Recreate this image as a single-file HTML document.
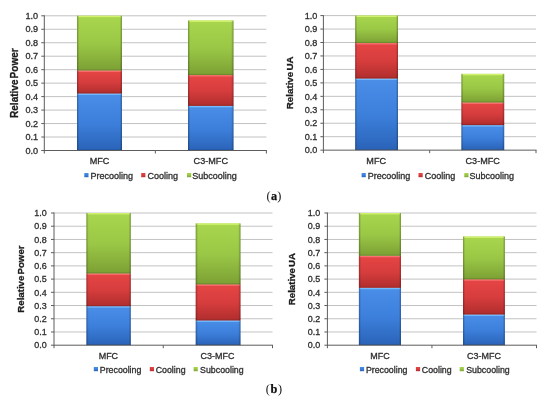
<!DOCTYPE html>
<html><head><meta charset="utf-8"><title>Relative Power and Relative UA</title>
<style>
html,body{margin:0;padding:0;background:#fff;}
body{width:550px;height:403px;overflow:hidden;}
svg{display:block;}
text{font-family:"Liberation Sans",Arial,sans-serif;}
.t{fill:#2e2e2e;stroke:#2e2e2e;stroke-width:0.3px;}
.yt{font-weight:bold;fill:#1c1c1c;stroke:#1c1c1c;stroke-width:0.3px;word-spacing:-1.6px;}
.cap{font-family:"Liberation Serif",serif;font-size:12.3px;fill:#111;}
</style></head><body>
<svg width="550" height="403" viewBox="0 0 550 403">
<defs>
<linearGradient id="gb" x1="0" y1="0" x2="0" y2="1"><stop offset="0" stop-color="#4a8ee8"/><stop offset="0.5" stop-color="#3d80dc"/><stop offset="1" stop-color="#2a63b8"/></linearGradient>
<linearGradient id="gr" x1="0" y1="0" x2="0" y2="1"><stop offset="0" stop-color="#e64545"/><stop offset="0.5" stop-color="#d73d3d"/><stop offset="1" stop-color="#b02d2d"/></linearGradient>
<linearGradient id="gg" x1="0" y1="0" x2="0" y2="1"><stop offset="0" stop-color="#a8d64e"/><stop offset="0.5" stop-color="#9aC846"/><stop offset="1" stop-color="#7ca034"/></linearGradient>
<linearGradient id="edge" x1="0" y1="0" x2="1" y2="0"><stop offset="0" stop-color="#000" stop-opacity="0.3"/><stop offset="0.05" stop-color="#000" stop-opacity="0"/><stop offset="0.95" stop-color="#000" stop-opacity="0"/><stop offset="1" stop-color="#000" stop-opacity="0.3"/></linearGradient>
</defs>
<rect width="550" height="403" fill="#fff"/>

<g font-size="9.1">
<line x1="44.30" y1="137.03" x2="266.40" y2="137.03" stroke="#c2c2c2" stroke-width="1"/>
<line x1="44.30" y1="123.56" x2="266.40" y2="123.56" stroke="#c2c2c2" stroke-width="1"/>
<line x1="44.30" y1="110.09" x2="266.40" y2="110.09" stroke="#c2c2c2" stroke-width="1"/>
<line x1="44.30" y1="96.62" x2="266.40" y2="96.62" stroke="#c2c2c2" stroke-width="1"/>
<line x1="44.30" y1="83.15" x2="266.40" y2="83.15" stroke="#c2c2c2" stroke-width="1"/>
<line x1="44.30" y1="69.68" x2="266.40" y2="69.68" stroke="#c2c2c2" stroke-width="1"/>
<line x1="44.30" y1="56.21" x2="266.40" y2="56.21" stroke="#c2c2c2" stroke-width="1"/>
<line x1="44.30" y1="42.74" x2="266.40" y2="42.74" stroke="#c2c2c2" stroke-width="1"/>
<line x1="44.30" y1="29.27" x2="266.40" y2="29.27" stroke="#c2c2c2" stroke-width="1"/>
<line x1="44.30" y1="15.80" x2="266.40" y2="15.80" stroke="#c2c2c2" stroke-width="1"/>
<rect x="77.00" y="93.52" width="45.00" height="56.98" fill="url(#gb)"/>
<rect x="77.80" y="93.52" width="43.40" height="1.4" fill="#72bcff"/>
<rect x="77.00" y="149.30" width="45.00" height="1.2" fill="#000" fill-opacity="0.12"/>
<rect x="77.00" y="70.49" width="45.00" height="23.03" fill="url(#gr)"/>
<rect x="77.80" y="70.49" width="43.40" height="1.4" fill="#fb7070"/>
<rect x="77.00" y="92.32" width="45.00" height="1.2" fill="#000" fill-opacity="0.12"/>
<rect x="77.00" y="15.80" width="45.00" height="54.69" fill="url(#gg)"/>
<rect x="77.80" y="15.80" width="43.40" height="1.4" fill="#d0f26e"/>
<rect x="77.00" y="69.29" width="45.00" height="1.2" fill="#000" fill-opacity="0.12"/>
<rect x="77.00" y="15.80" width="45.00" height="134.70" fill="url(#edge)"/>
<rect x="188.00" y="105.91" width="45.50" height="44.59" fill="url(#gb)"/>
<rect x="188.80" y="105.91" width="43.90" height="1.4" fill="#72bcff"/>
<rect x="188.00" y="149.30" width="45.50" height="1.2" fill="#000" fill-opacity="0.12"/>
<rect x="188.00" y="75.07" width="45.50" height="30.85" fill="url(#gr)"/>
<rect x="188.80" y="75.07" width="43.90" height="1.4" fill="#fb7070"/>
<rect x="188.00" y="104.71" width="45.50" height="1.2" fill="#000" fill-opacity="0.12"/>
<rect x="188.00" y="20.51" width="45.50" height="54.55" fill="url(#gg)"/>
<rect x="188.80" y="20.51" width="43.90" height="1.4" fill="#d0f26e"/>
<rect x="188.00" y="73.87" width="45.50" height="1.2" fill="#000" fill-opacity="0.12"/>
<rect x="188.00" y="20.51" width="45.50" height="129.99" fill="url(#edge)"/>
<line x1="44.30" y1="15.30" x2="44.30" y2="153.50" stroke="#5c5c5c" stroke-width="1"/>
<line x1="41.30" y1="150.50" x2="266.90" y2="150.50" stroke="#5c5c5c" stroke-width="1"/>
<line x1="41.30" y1="137.03" x2="44.30" y2="137.03" stroke="#5c5c5c" stroke-width="1"/>
<line x1="41.30" y1="123.56" x2="44.30" y2="123.56" stroke="#5c5c5c" stroke-width="1"/>
<line x1="41.30" y1="110.09" x2="44.30" y2="110.09" stroke="#5c5c5c" stroke-width="1"/>
<line x1="41.30" y1="96.62" x2="44.30" y2="96.62" stroke="#5c5c5c" stroke-width="1"/>
<line x1="41.30" y1="83.15" x2="44.30" y2="83.15" stroke="#5c5c5c" stroke-width="1"/>
<line x1="41.30" y1="69.68" x2="44.30" y2="69.68" stroke="#5c5c5c" stroke-width="1"/>
<line x1="41.30" y1="56.21" x2="44.30" y2="56.21" stroke="#5c5c5c" stroke-width="1"/>
<line x1="41.30" y1="42.74" x2="44.30" y2="42.74" stroke="#5c5c5c" stroke-width="1"/>
<line x1="41.30" y1="29.27" x2="44.30" y2="29.27" stroke="#5c5c5c" stroke-width="1"/>
<line x1="41.30" y1="15.80" x2="44.30" y2="15.80" stroke="#5c5c5c" stroke-width="1"/>
<line x1="155.35" y1="150.50" x2="155.35" y2="153.50" stroke="#5c5c5c" stroke-width="1"/>
<line x1="266.40" y1="150.50" x2="266.40" y2="153.50" stroke="#5c5c5c" stroke-width="1"/>
<text class="t" x="38.20" y="153.70" text-anchor="end">0.0</text>
<text class="t" x="38.20" y="140.23" text-anchor="end">0.1</text>
<text class="t" x="38.20" y="126.76" text-anchor="end">0.2</text>
<text class="t" x="38.20" y="113.29" text-anchor="end">0.3</text>
<text class="t" x="38.20" y="99.82" text-anchor="end">0.4</text>
<text class="t" x="38.20" y="86.35" text-anchor="end">0.5</text>
<text class="t" x="38.20" y="72.88" text-anchor="end">0.6</text>
<text class="t" x="38.20" y="59.41" text-anchor="end">0.7</text>
<text class="t" x="38.20" y="45.94" text-anchor="end">0.8</text>
<text class="t" x="38.20" y="32.47" text-anchor="end">0.9</text>
<text class="t" x="38.20" y="19.00" text-anchor="end">1.0</text>
<text class="t" x="99.50" y="163.80" text-anchor="middle">MFC</text>
<text class="t" x="210.80" y="163.80" text-anchor="middle">C3-MFC</text>
<text class="yt" font-size="10.00" x="17.70" y="83.15" text-anchor="middle" transform="rotate(-90 17.70 83.15)">Relative Power</text>
<rect x="84.30" y="173.00" width="4.2" height="4.2" fill="url(#gb)"/>
<text class="t" font-size="9.00" x="90.50" y="178.80">Precooling</text>
<rect x="141.20" y="173.00" width="4.2" height="4.2" fill="url(#gr)"/>
<text class="t" font-size="9.00" x="147.40" y="178.80">Cooling</text>
<rect x="187.00" y="173.00" width="4.2" height="4.2" fill="url(#gg)"/>
<text class="t" font-size="9.00" x="192.30" y="178.80">Subcooling</text>
</g>
<g font-size="9.1">
<line x1="323.40" y1="136.69" x2="536.00" y2="136.69" stroke="#c2c2c2" stroke-width="1"/>
<line x1="323.40" y1="123.24" x2="536.00" y2="123.24" stroke="#c2c2c2" stroke-width="1"/>
<line x1="323.40" y1="109.78" x2="536.00" y2="109.78" stroke="#c2c2c2" stroke-width="1"/>
<line x1="323.40" y1="96.33" x2="536.00" y2="96.33" stroke="#c2c2c2" stroke-width="1"/>
<line x1="323.40" y1="82.88" x2="536.00" y2="82.88" stroke="#c2c2c2" stroke-width="1"/>
<line x1="323.40" y1="69.42" x2="536.00" y2="69.42" stroke="#c2c2c2" stroke-width="1"/>
<line x1="323.40" y1="55.96" x2="536.00" y2="55.96" stroke="#c2c2c2" stroke-width="1"/>
<line x1="323.40" y1="42.51" x2="536.00" y2="42.51" stroke="#c2c2c2" stroke-width="1"/>
<line x1="323.40" y1="29.06" x2="536.00" y2="29.06" stroke="#c2c2c2" stroke-width="1"/>
<line x1="323.40" y1="15.60" x2="536.00" y2="15.60" stroke="#c2c2c2" stroke-width="1"/>
<rect x="355.20" y="78.57" width="42.80" height="71.58" fill="url(#gb)"/>
<rect x="356.00" y="78.57" width="41.20" height="1.4" fill="#72bcff"/>
<rect x="355.20" y="148.95" width="42.80" height="1.2" fill="#000" fill-opacity="0.12"/>
<rect x="355.20" y="43.05" width="42.80" height="35.52" fill="url(#gr)"/>
<rect x="356.00" y="43.05" width="41.20" height="1.4" fill="#fb7070"/>
<rect x="355.20" y="77.37" width="42.80" height="1.2" fill="#000" fill-opacity="0.12"/>
<rect x="355.20" y="15.60" width="42.80" height="27.45" fill="url(#gg)"/>
<rect x="356.00" y="15.60" width="41.20" height="1.4" fill="#d0f26e"/>
<rect x="355.20" y="41.85" width="42.80" height="1.2" fill="#000" fill-opacity="0.12"/>
<rect x="355.20" y="15.60" width="42.80" height="134.55" fill="url(#edge)"/>
<rect x="461.40" y="125.12" width="42.80" height="25.03" fill="url(#gb)"/>
<rect x="462.20" y="125.12" width="41.20" height="1.4" fill="#72bcff"/>
<rect x="461.40" y="148.95" width="42.80" height="1.2" fill="#000" fill-opacity="0.12"/>
<rect x="461.40" y="102.52" width="42.80" height="22.60" fill="url(#gr)"/>
<rect x="462.20" y="102.52" width="41.20" height="1.4" fill="#fb7070"/>
<rect x="461.40" y="123.92" width="42.80" height="1.2" fill="#000" fill-opacity="0.12"/>
<rect x="461.40" y="73.86" width="42.80" height="28.66" fill="url(#gg)"/>
<rect x="462.20" y="73.86" width="41.20" height="1.4" fill="#d0f26e"/>
<rect x="461.40" y="101.32" width="42.80" height="1.2" fill="#000" fill-opacity="0.12"/>
<rect x="461.40" y="73.86" width="42.80" height="76.29" fill="url(#edge)"/>
<line x1="323.40" y1="15.10" x2="323.40" y2="153.15" stroke="#5c5c5c" stroke-width="1"/>
<line x1="320.40" y1="150.15" x2="536.50" y2="150.15" stroke="#5c5c5c" stroke-width="1"/>
<line x1="320.40" y1="136.69" x2="323.40" y2="136.69" stroke="#5c5c5c" stroke-width="1"/>
<line x1="320.40" y1="123.24" x2="323.40" y2="123.24" stroke="#5c5c5c" stroke-width="1"/>
<line x1="320.40" y1="109.78" x2="323.40" y2="109.78" stroke="#5c5c5c" stroke-width="1"/>
<line x1="320.40" y1="96.33" x2="323.40" y2="96.33" stroke="#5c5c5c" stroke-width="1"/>
<line x1="320.40" y1="82.88" x2="323.40" y2="82.88" stroke="#5c5c5c" stroke-width="1"/>
<line x1="320.40" y1="69.42" x2="323.40" y2="69.42" stroke="#5c5c5c" stroke-width="1"/>
<line x1="320.40" y1="55.96" x2="323.40" y2="55.96" stroke="#5c5c5c" stroke-width="1"/>
<line x1="320.40" y1="42.51" x2="323.40" y2="42.51" stroke="#5c5c5c" stroke-width="1"/>
<line x1="320.40" y1="29.06" x2="323.40" y2="29.06" stroke="#5c5c5c" stroke-width="1"/>
<line x1="320.40" y1="15.60" x2="323.40" y2="15.60" stroke="#5c5c5c" stroke-width="1"/>
<line x1="429.70" y1="150.15" x2="429.70" y2="153.15" stroke="#5c5c5c" stroke-width="1"/>
<line x1="536.00" y1="150.15" x2="536.00" y2="153.15" stroke="#5c5c5c" stroke-width="1"/>
<text class="t" x="317.40" y="153.35" text-anchor="end">0.0</text>
<text class="t" x="317.40" y="139.89" text-anchor="end">0.1</text>
<text class="t" x="317.40" y="126.44" text-anchor="end">0.2</text>
<text class="t" x="317.40" y="112.98" text-anchor="end">0.3</text>
<text class="t" x="317.40" y="99.53" text-anchor="end">0.4</text>
<text class="t" x="317.40" y="86.08" text-anchor="end">0.5</text>
<text class="t" x="317.40" y="72.62" text-anchor="end">0.6</text>
<text class="t" x="317.40" y="59.16" text-anchor="end">0.7</text>
<text class="t" x="317.40" y="45.71" text-anchor="end">0.8</text>
<text class="t" x="317.40" y="32.26" text-anchor="end">0.9</text>
<text class="t" x="317.40" y="18.80" text-anchor="end">1.0</text>
<text class="t" x="376.20" y="163.80" text-anchor="middle">MFC</text>
<text class="t" x="482.70" y="163.80" text-anchor="middle">C3-MFC</text>
<text class="yt" font-size="9.80" x="292.70" y="82.88" text-anchor="middle" transform="rotate(-90 292.70 82.88)">Relative UA</text>
<rect x="361.60" y="173.00" width="4.2" height="4.2" fill="url(#gb)"/>
<text class="t" font-size="9.00" x="367.80" y="178.80">Precooling</text>
<rect x="418.50" y="173.00" width="4.2" height="4.2" fill="url(#gr)"/>
<text class="t" font-size="9.00" x="424.70" y="178.80">Cooling</text>
<rect x="464.30" y="173.00" width="4.2" height="4.2" fill="url(#gg)"/>
<text class="t" font-size="9.00" x="469.60" y="178.80">Subcooling</text>
</g>
<g font-size="8.95">
<line x1="54.00" y1="331.98" x2="272.50" y2="331.98" stroke="#c2c2c2" stroke-width="1"/>
<line x1="54.00" y1="318.76" x2="272.50" y2="318.76" stroke="#c2c2c2" stroke-width="1"/>
<line x1="54.00" y1="305.54" x2="272.50" y2="305.54" stroke="#c2c2c2" stroke-width="1"/>
<line x1="54.00" y1="292.32" x2="272.50" y2="292.32" stroke="#c2c2c2" stroke-width="1"/>
<line x1="54.00" y1="279.10" x2="272.50" y2="279.10" stroke="#c2c2c2" stroke-width="1"/>
<line x1="54.00" y1="265.88" x2="272.50" y2="265.88" stroke="#c2c2c2" stroke-width="1"/>
<line x1="54.00" y1="252.66" x2="272.50" y2="252.66" stroke="#c2c2c2" stroke-width="1"/>
<line x1="54.00" y1="239.44" x2="272.50" y2="239.44" stroke="#c2c2c2" stroke-width="1"/>
<line x1="54.00" y1="226.22" x2="272.50" y2="226.22" stroke="#c2c2c2" stroke-width="1"/>
<line x1="54.00" y1="213.00" x2="272.50" y2="213.00" stroke="#c2c2c2" stroke-width="1"/>
<rect x="86.40" y="306.20" width="44.40" height="39.00" fill="url(#gb)"/>
<rect x="87.20" y="306.20" width="42.80" height="1.4" fill="#72bcff"/>
<rect x="86.40" y="344.00" width="44.40" height="1.2" fill="#000" fill-opacity="0.12"/>
<rect x="86.40" y="273.48" width="44.40" height="32.72" fill="url(#gr)"/>
<rect x="87.20" y="273.48" width="42.80" height="1.4" fill="#fb7070"/>
<rect x="86.40" y="305.00" width="44.40" height="1.2" fill="#000" fill-opacity="0.12"/>
<rect x="86.40" y="213.00" width="44.40" height="60.48" fill="url(#gg)"/>
<rect x="87.20" y="213.00" width="42.80" height="1.4" fill="#d0f26e"/>
<rect x="86.40" y="272.28" width="44.40" height="1.2" fill="#000" fill-opacity="0.12"/>
<rect x="86.40" y="213.00" width="44.40" height="132.20" fill="url(#edge)"/>
<rect x="195.70" y="320.48" width="44.80" height="24.72" fill="url(#gb)"/>
<rect x="196.50" y="320.48" width="43.20" height="1.4" fill="#72bcff"/>
<rect x="195.70" y="344.00" width="44.80" height="1.2" fill="#000" fill-opacity="0.12"/>
<rect x="195.70" y="284.39" width="44.80" height="36.09" fill="url(#gr)"/>
<rect x="196.50" y="284.39" width="43.20" height="1.4" fill="#fb7070"/>
<rect x="195.70" y="319.28" width="44.80" height="1.2" fill="#000" fill-opacity="0.12"/>
<rect x="195.70" y="223.44" width="44.80" height="60.94" fill="url(#gg)"/>
<rect x="196.50" y="223.44" width="43.20" height="1.4" fill="#d0f26e"/>
<rect x="195.70" y="283.19" width="44.80" height="1.2" fill="#000" fill-opacity="0.12"/>
<rect x="195.70" y="223.44" width="44.80" height="121.76" fill="url(#edge)"/>
<line x1="54.00" y1="212.50" x2="54.00" y2="348.20" stroke="#5c5c5c" stroke-width="1"/>
<line x1="51.00" y1="345.20" x2="273.00" y2="345.20" stroke="#5c5c5c" stroke-width="1"/>
<line x1="51.00" y1="331.98" x2="54.00" y2="331.98" stroke="#5c5c5c" stroke-width="1"/>
<line x1="51.00" y1="318.76" x2="54.00" y2="318.76" stroke="#5c5c5c" stroke-width="1"/>
<line x1="51.00" y1="305.54" x2="54.00" y2="305.54" stroke="#5c5c5c" stroke-width="1"/>
<line x1="51.00" y1="292.32" x2="54.00" y2="292.32" stroke="#5c5c5c" stroke-width="1"/>
<line x1="51.00" y1="279.10" x2="54.00" y2="279.10" stroke="#5c5c5c" stroke-width="1"/>
<line x1="51.00" y1="265.88" x2="54.00" y2="265.88" stroke="#5c5c5c" stroke-width="1"/>
<line x1="51.00" y1="252.66" x2="54.00" y2="252.66" stroke="#5c5c5c" stroke-width="1"/>
<line x1="51.00" y1="239.44" x2="54.00" y2="239.44" stroke="#5c5c5c" stroke-width="1"/>
<line x1="51.00" y1="226.22" x2="54.00" y2="226.22" stroke="#5c5c5c" stroke-width="1"/>
<line x1="51.00" y1="213.00" x2="54.00" y2="213.00" stroke="#5c5c5c" stroke-width="1"/>
<line x1="163.25" y1="345.20" x2="163.25" y2="348.20" stroke="#5c5c5c" stroke-width="1"/>
<line x1="272.50" y1="345.20" x2="272.50" y2="348.20" stroke="#5c5c5c" stroke-width="1"/>
<text class="t" x="46.70" y="348.40" text-anchor="end">0.0</text>
<text class="t" x="46.70" y="335.18" text-anchor="end">0.1</text>
<text class="t" x="46.70" y="321.96" text-anchor="end">0.2</text>
<text class="t" x="46.70" y="308.74" text-anchor="end">0.3</text>
<text class="t" x="46.70" y="295.52" text-anchor="end">0.4</text>
<text class="t" x="46.70" y="282.30" text-anchor="end">0.5</text>
<text class="t" x="46.70" y="269.08" text-anchor="end">0.6</text>
<text class="t" x="46.70" y="255.86" text-anchor="end">0.7</text>
<text class="t" x="46.70" y="242.64" text-anchor="end">0.8</text>
<text class="t" x="46.70" y="229.42" text-anchor="end">0.9</text>
<text class="t" x="46.70" y="216.20" text-anchor="end">1.0</text>
<text class="t" x="108.40" y="358.80" text-anchor="middle">MFC</text>
<text class="t" x="217.50" y="358.80" text-anchor="middle">C3-MFC</text>
<text class="yt" font-size="9.70" x="24.50" y="279.10" text-anchor="middle" transform="rotate(-90 24.50 279.10)">Relative Power</text>
<rect x="93.80" y="367.00" width="4.2" height="4.2" fill="url(#gb)"/>
<text class="t" font-size="8.80" x="99.80" y="372.80">Precooling</text>
<rect x="149.80" y="367.00" width="4.2" height="4.2" fill="url(#gr)"/>
<text class="t" font-size="8.80" x="155.70" y="372.80">Cooling</text>
<rect x="193.60" y="367.00" width="4.2" height="4.2" fill="url(#gg)"/>
<text class="t" font-size="8.80" x="200.10" y="372.80">Subcooling</text>
</g>
<g font-size="8.95">
<line x1="327.40" y1="331.98" x2="536.50" y2="331.98" stroke="#c2c2c2" stroke-width="1"/>
<line x1="327.40" y1="318.76" x2="536.50" y2="318.76" stroke="#c2c2c2" stroke-width="1"/>
<line x1="327.40" y1="305.54" x2="536.50" y2="305.54" stroke="#c2c2c2" stroke-width="1"/>
<line x1="327.40" y1="292.32" x2="536.50" y2="292.32" stroke="#c2c2c2" stroke-width="1"/>
<line x1="327.40" y1="279.10" x2="536.50" y2="279.10" stroke="#c2c2c2" stroke-width="1"/>
<line x1="327.40" y1="265.88" x2="536.50" y2="265.88" stroke="#c2c2c2" stroke-width="1"/>
<line x1="327.40" y1="252.66" x2="536.50" y2="252.66" stroke="#c2c2c2" stroke-width="1"/>
<line x1="327.40" y1="239.44" x2="536.50" y2="239.44" stroke="#c2c2c2" stroke-width="1"/>
<line x1="327.40" y1="226.22" x2="536.50" y2="226.22" stroke="#c2c2c2" stroke-width="1"/>
<line x1="327.40" y1="213.00" x2="536.50" y2="213.00" stroke="#c2c2c2" stroke-width="1"/>
<rect x="358.90" y="287.83" width="42.10" height="57.37" fill="url(#gb)"/>
<rect x="359.70" y="287.83" width="40.50" height="1.4" fill="#72bcff"/>
<rect x="358.90" y="344.00" width="42.10" height="1.2" fill="#000" fill-opacity="0.12"/>
<rect x="358.90" y="255.83" width="42.10" height="31.99" fill="url(#gr)"/>
<rect x="359.70" y="255.83" width="40.50" height="1.4" fill="#fb7070"/>
<rect x="358.90" y="286.63" width="42.10" height="1.2" fill="#000" fill-opacity="0.12"/>
<rect x="358.90" y="213.00" width="42.10" height="42.83" fill="url(#gg)"/>
<rect x="359.70" y="213.00" width="40.50" height="1.4" fill="#d0f26e"/>
<rect x="358.90" y="254.63" width="42.10" height="1.2" fill="#000" fill-opacity="0.12"/>
<rect x="358.90" y="213.00" width="42.10" height="132.20" fill="url(#edge)"/>
<rect x="463.00" y="314.53" width="41.90" height="30.67" fill="url(#gb)"/>
<rect x="463.80" y="314.53" width="40.30" height="1.4" fill="#72bcff"/>
<rect x="463.00" y="344.00" width="41.90" height="1.2" fill="#000" fill-opacity="0.12"/>
<rect x="463.00" y="279.36" width="41.90" height="35.17" fill="url(#gr)"/>
<rect x="463.80" y="279.36" width="40.30" height="1.4" fill="#fb7070"/>
<rect x="463.00" y="313.33" width="41.90" height="1.2" fill="#000" fill-opacity="0.12"/>
<rect x="463.00" y="236.53" width="41.90" height="42.83" fill="url(#gg)"/>
<rect x="463.80" y="236.53" width="40.30" height="1.4" fill="#d0f26e"/>
<rect x="463.00" y="278.16" width="41.90" height="1.2" fill="#000" fill-opacity="0.12"/>
<rect x="463.00" y="236.53" width="41.90" height="108.67" fill="url(#edge)"/>
<line x1="327.40" y1="212.50" x2="327.40" y2="348.20" stroke="#5c5c5c" stroke-width="1"/>
<line x1="324.40" y1="345.20" x2="537.00" y2="345.20" stroke="#5c5c5c" stroke-width="1"/>
<line x1="324.40" y1="331.98" x2="327.40" y2="331.98" stroke="#5c5c5c" stroke-width="1"/>
<line x1="324.40" y1="318.76" x2="327.40" y2="318.76" stroke="#5c5c5c" stroke-width="1"/>
<line x1="324.40" y1="305.54" x2="327.40" y2="305.54" stroke="#5c5c5c" stroke-width="1"/>
<line x1="324.40" y1="292.32" x2="327.40" y2="292.32" stroke="#5c5c5c" stroke-width="1"/>
<line x1="324.40" y1="279.10" x2="327.40" y2="279.10" stroke="#5c5c5c" stroke-width="1"/>
<line x1="324.40" y1="265.88" x2="327.40" y2="265.88" stroke="#5c5c5c" stroke-width="1"/>
<line x1="324.40" y1="252.66" x2="327.40" y2="252.66" stroke="#5c5c5c" stroke-width="1"/>
<line x1="324.40" y1="239.44" x2="327.40" y2="239.44" stroke="#5c5c5c" stroke-width="1"/>
<line x1="324.40" y1="226.22" x2="327.40" y2="226.22" stroke="#5c5c5c" stroke-width="1"/>
<line x1="324.40" y1="213.00" x2="327.40" y2="213.00" stroke="#5c5c5c" stroke-width="1"/>
<line x1="431.95" y1="345.20" x2="431.95" y2="348.20" stroke="#5c5c5c" stroke-width="1"/>
<line x1="536.50" y1="345.20" x2="536.50" y2="348.20" stroke="#5c5c5c" stroke-width="1"/>
<text class="t" x="320.30" y="348.40" text-anchor="end">0.0</text>
<text class="t" x="320.30" y="335.18" text-anchor="end">0.1</text>
<text class="t" x="320.30" y="321.96" text-anchor="end">0.2</text>
<text class="t" x="320.30" y="308.74" text-anchor="end">0.3</text>
<text class="t" x="320.30" y="295.52" text-anchor="end">0.4</text>
<text class="t" x="320.30" y="282.30" text-anchor="end">0.5</text>
<text class="t" x="320.30" y="269.08" text-anchor="end">0.6</text>
<text class="t" x="320.30" y="255.86" text-anchor="end">0.7</text>
<text class="t" x="320.30" y="242.64" text-anchor="end">0.8</text>
<text class="t" x="320.30" y="229.42" text-anchor="end">0.9</text>
<text class="t" x="320.30" y="216.20" text-anchor="end">1.0</text>
<text class="t" x="380.00" y="358.80" text-anchor="middle">MFC</text>
<text class="t" x="484.00" y="358.80" text-anchor="middle">C3-MFC</text>
<text class="yt" font-size="9.70" x="295.40" y="279.10" text-anchor="middle" transform="rotate(-90 295.40 279.10)">Relative UA</text>
<rect x="359.90" y="367.00" width="4.2" height="4.2" fill="url(#gb)"/>
<text class="t" font-size="8.80" x="365.90" y="372.80">Precooling</text>
<rect x="415.90" y="367.00" width="4.2" height="4.2" fill="url(#gr)"/>
<text class="t" font-size="8.80" x="421.80" y="372.80">Cooling</text>
<rect x="459.70" y="367.00" width="4.2" height="4.2" fill="url(#gg)"/>
<text class="t" font-size="8.80" x="466.20" y="372.80">Subcooling</text>
</g>
<text class="cap" x="274.1" y="200.3" text-anchor="middle" letter-spacing="0.25">(<tspan font-weight="bold" stroke="#111" stroke-width="0.25">a</tspan>)</text>
<text class="cap" x="274.3" y="393.4" text-anchor="middle" letter-spacing="0.7">(<tspan font-weight="bold" stroke="#111" stroke-width="0.25">b</tspan>)</text>
</svg></body></html>
